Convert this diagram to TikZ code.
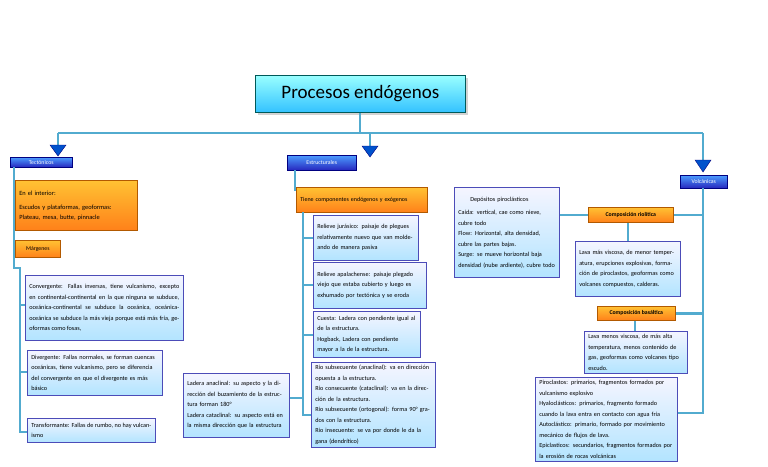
\documentclass[tikz,border=0pt]{standalone}
\usepackage{fontspec}
\setmainfont{Carlito}
\usetikzlibrary{shadows}
\begin{document}
\begin{tikzpicture}[x=1pt,y=-1pt,
  conn/.style={draw=cyan!55!teal!80!white, line width=2.4pt},
  bbox/.style={draw=blue!60!black!70, line width=0.6pt, top color=blue!4, bottom color=blue!35!cyan!30!white, anchor=north west, inner sep=3pt, font=\fontsize{6.2}{10.5}\selectfont, align=left, drop shadow={opacity=0.3,shadow xshift=1pt,shadow yshift=-1pt}},
  obox/.style={draw=orange!70!black, line width=0.6pt, top color=orange!60!yellow!80!white, bottom color=orange!90!red!90, anchor=north west, inner sep=3pt, font=\fontsize{6.4}{10}\selectfont, align=left, drop shadow={opacity=0.3,shadow xshift=1pt,shadow yshift=-1pt}},
  hbox/.style={draw=blue!50!black, line width=0.5pt, top color=blue!55!cyan!70, bottom color=blue!70!black!85, text=white, anchor=north west, inner sep=2pt, font=\fontsize{5.8}{7}\selectfont, align=left},
  tri/.style={fill=blue!60!cyan!80!black, draw=blue!50!black, line width=0.4pt}]
\useasboundingbox (0,0) rectangle (768,466);
% title
\node[draw=teal!70!black, line width=0.8pt, top color=cyan!40, bottom color=cyan!70!blue!80, anchor=north west, minimum width=210pt, minimum height=37pt, font=\fontsize{19}{22}\selectfont, drop shadow={opacity=0.35}] (title) at (255,75) {Procesos endógenos};
% headers
\node[hbox, minimum width=62pt, minimum height=10pt] (tec) at (10,157) {Tectónicos};
\node[hbox, minimum width=69pt, minimum height=15pt] (est) at (287,155) {Estructurales};
\node[hbox, minimum width=47pt, minimum height=13pt, align=center] (vol) at (680,175) {Volcánicas};
% top connectors
\coordinate (j0) at (360,133);
\coordinate (jl) at (58,133);
\coordinate (jm) at (370,133);
\coordinate (jr) at (703,133);
\draw[conn] (title.south -| j0) -- (j0);
\draw[conn] (jl) -- (jr);
\draw[conn] (jl) -- ++(0,12);
\draw[conn] (jm) -- ++(0,13);
\draw[conn] (jr) -- ++(0,27);
\draw[tri] (50,145) -- (66,145) -- (58,156) -- cycle;
\draw[tri] (362,146) -- (378,146) -- (370,157) -- cycle;
\draw[tri] (695,160) -- (711,160) -- (703,172) -- cycle;
% Tectonicos
\node[obox, minimum width=122pt, minimum height=50pt, text width=114pt] (int) at (15,180) {En el interior:\\[4pt]Escudos y plataformas, geoformas:\\Plateau, mesa, butte, pinnacle};
\node[obox, minimum width=45pt, minimum height=17pt, font=\fontsize{5.8}{7}\selectfont] (mar) at (15,240) {Márgenes};
\node[bbox, minimum width=158pt, minimum height=65pt, text width=150pt, align=justify] (conv) at (25,275) {Convergente: Fallas inversas, tiene vulcanismo, excepto en continental-continental en la que ninguna se subduce, oceánica-continental se subduce la oceánica, oceánica-oceánica se subduce la más vieja porque está más fría, geoformas como fosas,};
\node[bbox, minimum width=135pt, minimum height=45pt, text width=127pt] (div) at (27,350) {Divergente: Fallas normales, se forman cuencas oceánicas, tiene vulcanismo, pero se diferencia del convergente en que el divergente es más básico};
\node[bbox, minimum width=128pt, minimum height=24pt, text width=120pt, align=justify] (tra) at (27,418) {Transformante: Fallas de rumbo, no hay vulcanismo};
\coordinate (t1) at (14,167);
\coordinate (t2) at (14,268);
\coordinate (t3) at (20,268);
\coordinate (t4) at (20,432);
\draw[conn] (t1) -- (t2) -- (t3) -- (t4) -- (tra.west |- t4);
\draw[conn] (14,205) -- (int.west |- 0,205);
\draw[conn] (14,248) -- (mar.west |- 0,248);
\draw[conn] (20,305) -- (conv.west |- 0,305);
\draw[conn] (20,372) -- (div.west |- 0,372);
% Estructurales
\node[obox, minimum width=131pt, minimum height=25pt, text width=123pt, font=\fontsize{6}{10}\selectfont] (comp) at (296,187) {Tiene componentes endógenos y exógenos};
\node[bbox, minimum width=105pt, minimum height=45pt, text width=97pt] (jur) at (313,215) {Relieve jurásico: paisaje de plegues relativamente nuevo que van moldeando de manera pasiva};
\node[bbox, minimum width=113pt, minimum height=46pt, text width=105pt] (apa) at (313,262) {Relieve apalachense: paisaje plegado viejo que estaba cubierto y luego es exhumado por tectónica y se eroda};
\node[bbox, minimum width=107pt, minimum height=46pt, text width=99pt] (cue) at (313,311) {Cuesta: Ladera con pendiente igual al de la estructura.\\Hogback, Ladera con pendiente mayor a la de la estructura.};
\node[bbox, minimum width=124pt, minimum height=75pt, text width=116pt] (rio) at (311,362) {Río subsecuente (anaclinal): va en dirección opuesta a la estructura.\\Río consecuente (cataclinal): va en la dirección de la estructura.\\Río subsecuente (ortogonal): forma 90° grados con la estructura.\\Río insecuente: se va por donde le da la gana (dendrítico)};
\node[bbox, minimum width=106pt, minimum height=64pt, text width=98pt] (lad) at (183,373) {Ladera anaclinal: su aspecto y la dirección del buzamiento de la estructura forman 180°\\Ladera cataclinal: su aspecto está en la misma dirección que la estructura};
\draw[conn] (295,170) -- (295,190) -- (comp.west |- 0,190);
\draw[conn] (303,212) -- (303,415) -- (rio.west |- 0,415);
\draw[conn] (303,238) -- (jur.west |- 0,238);
\draw[conn] (303,285) -- (apa.west |- 0,285);
\draw[conn] (303,335) -- (cue.west |- 0,335);
\draw[conn] (lad.east |- 0,398) -- (303,398);
% Volcanicas
\node[obox, minimum width=85pt, minimum height=15pt, align=center, font=\fontsize{5.8}{7}\selectfont\bfseries] (rio2) at (588,207) {Composición riolítica};
\node[bbox, minimum width=105pt, minimum height=90pt, text width=97pt] (dep) at (454,187) {\hspace*{12pt}Depósitos piroclásticos\\[3pt]Caída: vertical, cae como nieve, cubre todo\\Flow: Horizontal, alta densidad, cubre las partes bajas.\\Surge: se mueve horizontal baja densidad (nube ardiente), cubre todo};
\node[bbox, minimum width=105pt, minimum height=55pt, text width=97pt] (lmas) at (575,241) {Lava más viscosa, de menor temperatura, erupciones explosivas, formación de piroclastos, geoformas como volcanes compuestos, calderas.};
\node[obox, minimum width=78pt, minimum height=14pt, align=center, font=\fontsize{5.8}{7}\selectfont\bfseries] (bas) at (597,306) {Composición basáltica};
\node[bbox, minimum width=103pt, minimum height=41pt, text width=95pt] (lmen) at (584,331) {Lava menos viscosa, de más alta temperatura, menos contenido de gas, geoformas como volcanes tipo escudo.};
\node[bbox, minimum width=142pt, minimum height=83pt, text width=134pt] (pir) at (535,377) {Piroclastos: primarios, fragmentos formados por vulcanismo explosivo\\Hyaloclásticos: primarios, fragmento formado cuando la lava entra en contacto con agua fría\\Autoclástico: primario, formado por movimiento mecánico de flujos de lava.\\Epiclasticos: secundarios, fragmentos formados por la erosión de rocas volcánicas};
\draw[conn] (703,188) -- (703,413) -- (pir.east |- 0,413);
\draw[conn] (rio2.east) -- (rio2.east -| 703,0);
\draw[conn] (dep.east |- rio2.west) -- (rio2.west);
\draw[conn] (rio2.south -| 628,0) -- (lmas.north -| 628,0);
\draw[conn] (bas.east) -- (bas.east -| 703,0);
\draw[conn] (bas.south -| 635,0) -- (lmen.north -| 635,0);
\end{tikzpicture}
\end{document}
